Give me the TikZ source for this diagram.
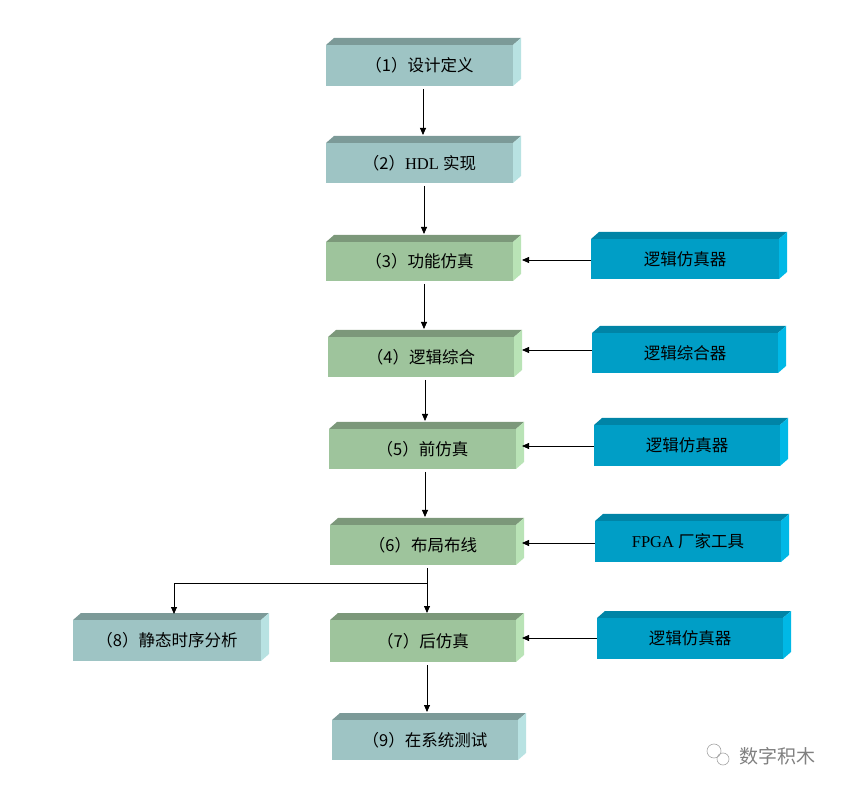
\documentclass[tikz,border=0pt]{standalone}
\usepackage{fontspec}
\setmainfont{Liberation Serif}
\newfontfamily\cjk{Noto Sans CJK SC}
\usetikzlibrary{arrows.meta}
\definecolor{tF}{HTML}{9EC4C4}\definecolor{tT}{HTML}{7C9A98}\definecolor{tR}{HTML}{B8E2E2}
\definecolor{gF}{HTML}{9EC49C}\definecolor{gT}{HTML}{7C987A}\definecolor{gR}{HTML}{B9E3B6}
\definecolor{bF}{HTML}{009EC6}\definecolor{bT}{HTML}{0084A6}\definecolor{bR}{HTML}{00B8E6}
\newcommand\bx[7]{%
 \fill[#6T] (#2,#3) -- (#2+8,#3-7) -- (#4+8,#3-7) -- (#4,#3) -- cycle;
 \fill[#6R] (#4,#3) -- (#4+8,#3-7) -- (#4+8,#5-7) -- (#4,#5) -- cycle;
 \fill[#6F] (#2,#3) rectangle (#4,#5);
 \node[lbl,minimum width=#4-#2,minimum height=#5-#3] (#1) at ({(#2+#4)/2},{(#3+#5)/2}) {#7};}
\begin{document}
\begin{tikzpicture}[x=1pt,y=-1pt,
 lbl/.style={inner sep=0,font=\fontsize{16.5}{18}\selectfont},
 arr/.style={-{Triangle[length=7pt,width=6pt]},line width=0.8pt}]
\useasboundingbox (0,0) rectangle (847,794);
\bx{b1}{326}{45}{513}{86}{t}{\cjk （1）设计定义}
\bx{b2}{326}{143}{513}{183}{t}{\cjk （2）\rmfamily HDL \cjk 实现}
\bx{b3}{326}{242}{513}{281}{g}{\cjk （3）功能仿真}
\bx{b4}{328}{337}{514}{377}{g}{\cjk （4）逻辑综合}
\bx{b5}{329}{429}{516}{469}{g}{\cjk （5）前仿真}
\bx{b6}{330}{525}{516}{565}{g}{\cjk （6）布局布线}
\bx{b8}{73}{620}{261}{661}{t}{\cjk （8）静态时序分析}
\bx{b7}{330}{620}{516}{662}{g}{\cjk （7）后仿真}
\bx{b9}{332}{720}{518}{760}{t}{\cjk （9）在系统测试}
\bx{s3}{591}{239}{779}{279}{b}{\cjk 逻辑仿真器}
\bx{s4}{592}{333}{778}{373}{b}{\cjk 逻辑综合器}
\bx{s5}{594}{425}{780}{466}{b}{\cjk 逻辑仿真器}
\bx{s6}{595}{521}{781}{562}{b}{FPGA \cjk 厂家工具}
\bx{s7}{597}{618}{783}{659}{b}{\cjk 逻辑仿真器}
\draw[arr] (423,89) -- (423,135);
\draw[arr] (424,186) -- (424,234);
\draw[arr] (424,284) -- (424,329);
\draw[arr] (425,380) -- (425,421);
\draw[arr] (425,472) -- (425,517);
\coordinate (sp) at (427,583);
\draw[line width=0.8pt] (427,568) -- (sp);
\draw[arr] (sp) -- (427,613);
\draw[arr] (sp) -- (174,583) -- (174,614);
\draw[arr] (427,665) -- (427,712);
\foreach \s/\b/\y in {s3/b3/260,s4/b4/350,s5/b5/446,s6/b6/543,s7/b7/638}
  \draw[arr] (\s.west |- 0,\y) -- (522,\y);
\node[font=\cjk\fontsize{19}{21}\selectfont,text=gray] (wm) at (777,756) {数字积木};
\draw[gray!70,line width=0.6pt] (714,751) circle (7) (723,759) circle (6);
\end{tikzpicture}
\end{document}
